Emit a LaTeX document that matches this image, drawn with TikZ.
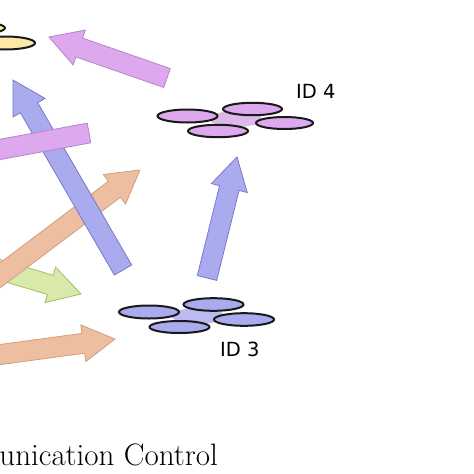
\documentclass[tikz,border=0pt]{standalone}
\usepackage{fontspec}
\newfontfamily\idfont{DejaVu Sans}
\usetikzlibrary{calc}
\definecolor{bluefill}{HTML}{AAAAEE}
\definecolor{bluedraw}{HTML}{7878CC}
\definecolor{bluecore}{HTML}{BBBBF2}
\definecolor{purpfill}{HTML}{DDA8EE}
\definecolor{purpdraw}{HTML}{B585C8}
\definecolor{purpcore}{HTML}{DDB8E8}
\definecolor{peachfill}{HTML}{EDBE9F}
\definecolor{peachdraw}{HTML}{D29F80}
\definecolor{greenfill}{HTML}{D9E9A9}
\definecolor{greendraw}{HTML}{A0BF6A}
\definecolor{yellowfill}{HTML}{FCE9A5}
\newcommand\fatarrow[3]{%
  \coordinate (faT) at #1; \coordinate (faP) at #2;
  \coordinate (faH) at ($(faP)!32pt!(faT)$);
  \draw[#3] ($(faT)!10pt!90:(faP)$) -- ($(faH)!10pt!90:(faP)$) -- ($(faH)!18.5pt!90:(faP)$)
    -- (faP) -- ($(faH)!18.5pt!-90:(faP)$) -- ($(faH)!10pt!-90:(faP)$) -- ($(faT)!10pt!-90:(faP)$) -- cycle;
}
\tikzset{
  bluearrow/.style={fill=bluefill, draw=bluedraw, line width=0.8pt, line join=miter},
  purparrow/.style={fill=purpfill, draw=purpdraw, line width=0.8pt, line join=miter},
  peacharrow/.style={fill=peachfill, draw=peachdraw, line width=0.8pt, line join=miter},
  greenarrow/.style={fill=greenfill, draw=greendraw, line width=0.8pt, line join=miter},
  cell/.style={draw=black!90, line width=2pt},
  idlabel/.style={anchor=base west, inner sep=0pt, font=\idfont\fontsize{19.5}{21}\selectfont},
}
\begin{document}
\begin{tikzpicture}[x=1pt,y=-1pt]
\useasboundingbox (0,0) rectangle (474,474);
\clip (0,0) rectangle (474,474);
% arrows
\coordinate (g1) at (-40,258); \coordinate (g2) at (81,294);
\fatarrow{(g1)}{(g2)}{greenarrow}
\coordinate (pd1) at (-30,298); \coordinate (pd2) at (140,170);
\fatarrow{(pd1)}{(pd2)}{peacharrow}
\coordinate (bl1) at (123,270); \coordinate (bl2) at (13,80);
\fatarrow{(bl1)}{(bl2)}{bluearrow}
\coordinate (ph1) at (89,133); \coordinate (ph2) at (-60,160.5);
\fatarrow{(ph1)}{(ph2)}{purparrow}
\coordinate (pt1) at (167,78); \coordinate (pt2) at (49,37);
\fatarrow{(pt1)}{(pt2)}{purparrow}
\coordinate (pb1) at (-40,360); \coordinate (pb2) at (115,339);
\fatarrow{(pb1)}{(pb2)}{peacharrow}
\coordinate (br1) at (207,278); \coordinate (br2) at (237,157);
\fatarrow{(br1)}{(br2)}{bluearrow}
% yellow cluster (partly outside)
\draw[cell, fill=yellowfill] (-25,28) ellipse [x radius=30, y radius=6];
\draw[cell, fill=yellowfill] (5,43) ellipse [x radius=30, y radius=6.5];
% ID 4 cluster
\fill[purpcore] (236,119) ellipse [x radius=26, y radius=8];
\draw[cell, fill=purpfill] (187.5,116) ellipse [x radius=30, y radius=6.5];
\draw[cell, fill=purpfill] (252.5,109) ellipse [x radius=29.5, y radius=6.2];
\draw[cell, fill=purpfill] (284.5,123) ellipse [x radius=28.5, y radius=6];
\draw[cell, fill=purpfill] (218,131) ellipse [x radius=30, y radius=6.2];
\node[idlabel] (id4) at (296,98.5) {ID 4};
% ID 3 cluster
\fill[bluecore] (198,316) ellipse [x radius=26, y radius=8];
\draw[cell, fill=bluefill] (149,312) ellipse [x radius=30, y radius=6.5];
\draw[cell, fill=bluefill] (213.5,304.5) ellipse [x radius=30, y radius=6.3];
\draw[cell, fill=bluefill] (244,319.5) ellipse [x radius=30, y radius=6.3];
\draw[cell, fill=bluefill] (179.5,327) ellipse [x radius=30, y radius=6];
\node[idlabel] (id3) at (220,356.5) {ID 3};
% caption
\node[anchor=base east, inner sep=0pt, font=\fontsize{31}{35}\selectfont] (cap) at (218,465) {unication Control};
\end{tikzpicture}
\end{document}
